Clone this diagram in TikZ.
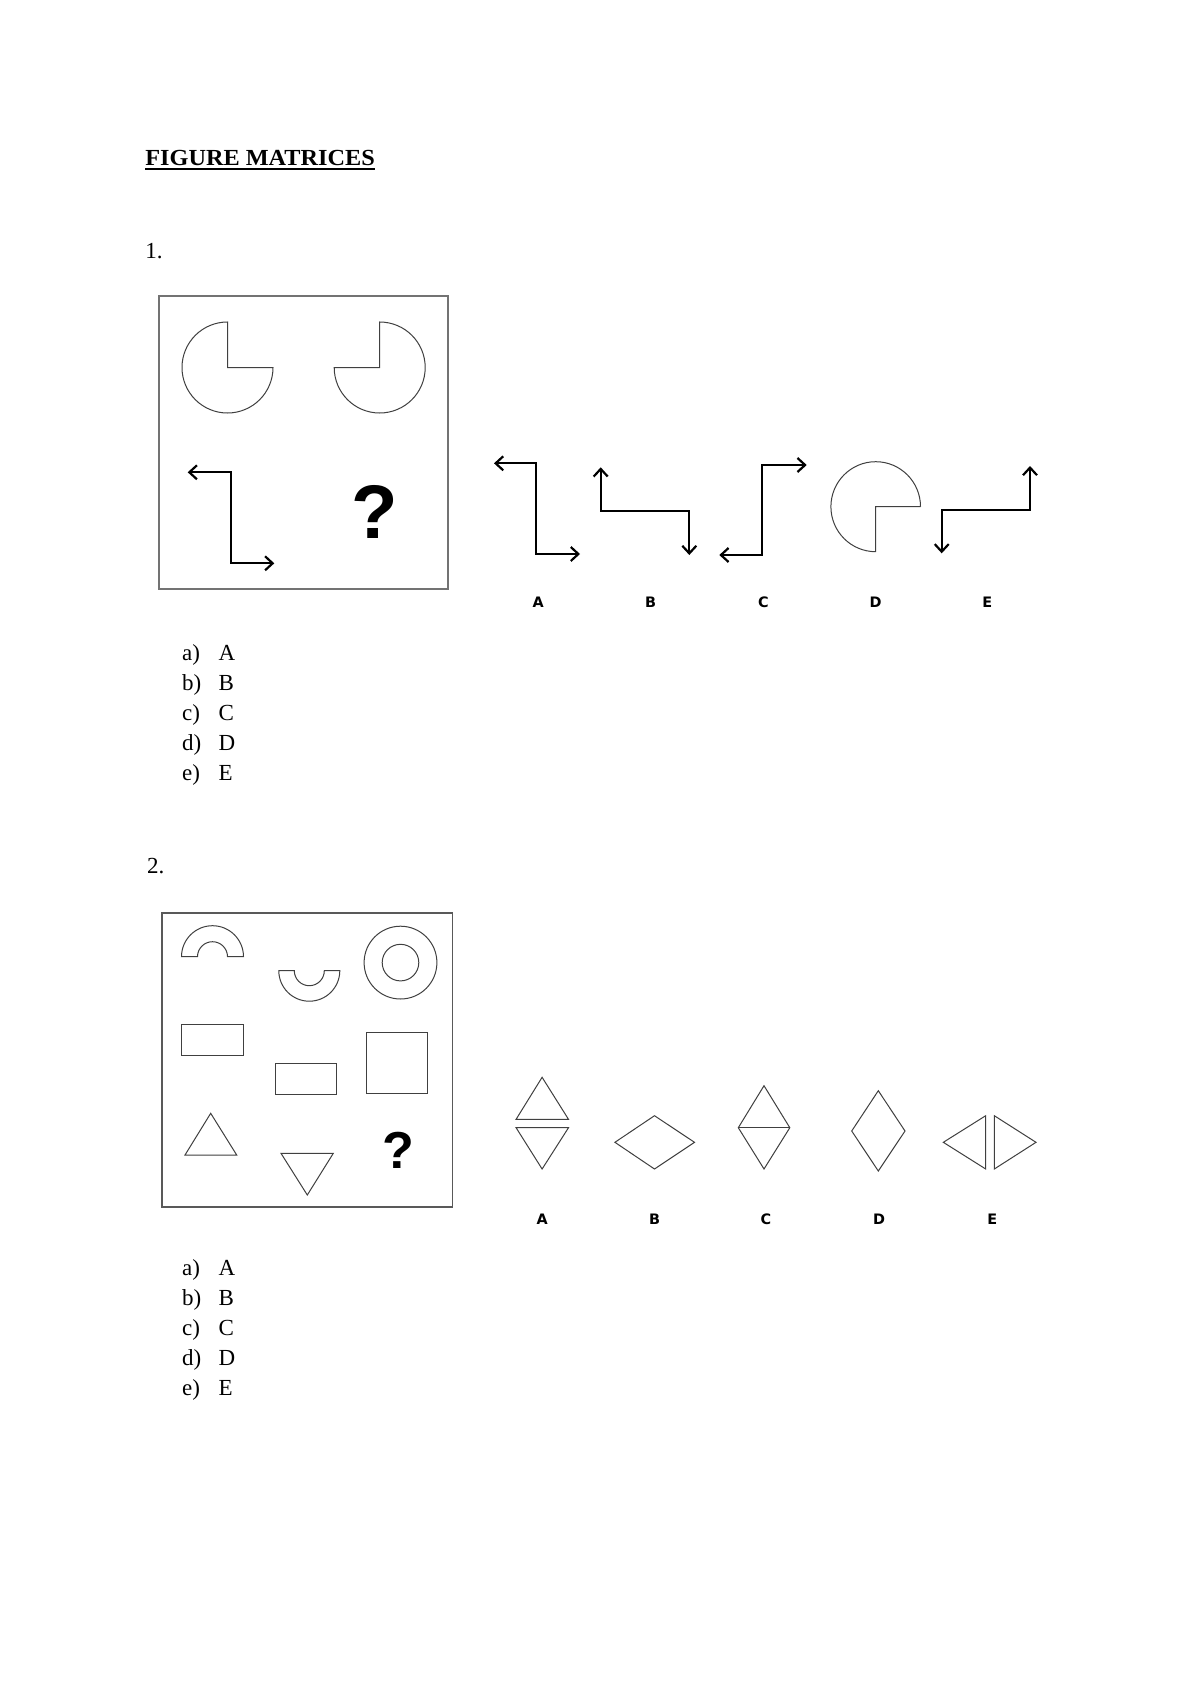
\documentclass[tikz,border=0pt]{standalone}
\usepackage{fontspec}
\setmainfont{Liberation Serif}
\newfontfamily\labfont{Liberation Sans}
\newfontfamily\optfont{DejaVu Sans}
\usetikzlibrary{arrows.meta}
\begin{document}
\begin{tikzpicture}[x=0.5pt,y=-0.5pt,
  txt/.style={anchor=base west,inner sep=0,font=\fontsize{11.5}{13}\selectfont},
  lab/.style={inner sep=0,font=\optfont\bfseries\fontsize{7.2}{8}\selectfont},
  frame/.style={draw=black!55,line width=0.8pt},
  thinline/.style={draw=black!75,line width=0.5pt,line join=miter},
  zig/.style={draw=black,line width=1.1pt,line join=miter,
    {Straight Barb[length=3.8pt,width=7pt,line width=1.1pt]}-{Straight Barb[length=3.8pt,width=7pt,line width=1.1pt]}},
  qmark/.style={inner sep=0,font=\labfont\bfseries\fontsize{38}{40}\selectfont},
  qmarksmall/.style={inner sep=0,font=\labfont\bfseries\fontsize{26}{28}\selectfont}]
\useasboundingbox[fill=white] (0,0) rectangle (1200,1696);

% title
\node[txt,font=\bfseries\fontsize{11.5}{13}\selectfont] (title) at (145,166) {\scalebox{1.055}[1]{FIGURE MATRICES}};
\draw[line width=0.9pt] ([yshift=-1.6pt]title.base west) -- ([yshift=-1.6pt]title.base east);

% ---------------- question 1 ----------------
\node[txt] (q1) at (145,258) {1.};
\draw[frame] (159,296) rectangle (448,589);

% pies
\draw[thinline] (227.5,322) -- (227.5,367.5) -- (273,367.5)
  arc[start angle=0,end angle=270,radius=45.5] -- cycle;
\draw[thinline] (379.7,322) -- (379.7,367.5) -- (334.2,367.5)
  arc[start angle=180,end angle=-90,radius=45.5] -- cycle;

% zigzag in the matrix
\coordinate (m1) at (187.7,472.3); \coordinate (m2) at (231,472.3);
\coordinate (m3) at (231,563.3);   \coordinate (m4) at (274.3,563.3);
\draw[zig] (m1) -- (m2) -- (m3) -- (m4);
\node[qmark] (qm1) at (375,511.7) {?};

% options
\coordinate (a1) at (494,463.3);   \coordinate (a2) at (536,463.3);
\coordinate (a3) at (536,554);     \coordinate (a4) at (580,554);
\draw[zig] (a1) -- (a2) -- (a3) -- (a4);
\coordinate (b1) at (600.7,467.3); \coordinate (b2) at (600.7,511);
\coordinate (b3) at (689.3,511);   \coordinate (b4) at (689.3,555);
\draw[zig] (b1) -- (b2) -- (b3) -- (b4);
\coordinate (c1) at (719.3,555);   \coordinate (c2) at (762.3,555);
\coordinate (c3) at (762.3,465);   \coordinate (c4) at (806.7,465);
\draw[zig] (c1) -- (c2) -- (c3) -- (c4);
\draw[thinline] (920.5,506.7) -- (875.7,506.7) -- (875.7,551.7)
  arc[start angle=90,end angle=360,x radius=44.8,y radius=45] -- cycle;
\coordinate (e1) at (941.7,553.3); \coordinate (e2) at (941.7,510);
\coordinate (e3) at (1030,510);    \coordinate (e4) at (1030,466);
\draw[zig] (e1) -- (e2) -- (e3) -- (e4);

\node[lab] (l1a) at (538.3,602) {A};
\node[lab] (l1b) at (650.7,602) {B};
\node[lab] (l1c) at (763.3,602) {C};
\node[lab] (l1d) at (875.7,602) {D};
\node[lab] (l1e) at (987.3,602) {E};

\foreach \y/\p/\c in {660/a/A,690/b/B,720/c/C,750/d/D,780/e/E}{
  \node[txt] (o1\p) at (181.7,\y) {\p)};
  \node[txt] (o1\c) at (218.3,\y) {\c};
}

% ---------------- question 2 ----------------
\node[txt] (q2) at (146.7,873.3) {2.};
\draw[frame,draw=black!65] (161.7,912.7) rectangle (452.3,1206.7);

% arches
\draw[thinline] (181.5,956.7) arc[start angle=180,end angle=360,radius=31]
  -- (227.5,956.7) arc[start angle=0,end angle=-180,radius=15] -- cycle;
\draw[thinline] (278.8,970.7) arc[start angle=180,end angle=0,radius=30.5]
  -- (324.3,970.7) arc[start angle=0,end angle=180,radius=15] -- cycle;
\draw[thinline] (400.5,962.6) circle[radius=36.4];
\draw[thinline] (400.5,962.6) circle[radius=18.3];

% rectangles
\draw[thinline] (181.7,1024.3) rectangle (243.3,1055);
\draw[thinline] (275,1063.7) rectangle (336,1094.3);
\draw[thinline] (366,1032) rectangle (427.3,1093.3);

% triangles
\draw[thinline] (210.7,1113.3) -- (236.7,1155) -- (185,1155) -- cycle;
\draw[thinline] (281,1153.3) -- (333.3,1153.3) -- (307.3,1195) -- cycle;
\node[qmarksmall] (qm2) at (398.3,1150.8) {?};

% options
\draw[thinline] (542.1,1077.3) -- (568.5,1119.3) -- (516.1,1119.3) -- cycle;
\draw[thinline] (516.1,1127.7) -- (568.5,1127.7) -- (542.1,1169) -- cycle;
\draw[thinline] (614.9,1142.3) -- (654.5,1115.7) -- (694.5,1142.3) -- (654.5,1169) -- cycle;
\draw[thinline] (764,1085.7) -- (789.8,1127.7) -- (764,1169) -- (738.3,1127.7) -- cycle;
\draw[thinline] (738.3,1127.7) -- (789.8,1127.7);
\draw[thinline] (878.3,1090.7) -- (905,1131) -- (878.3,1171) -- (851.7,1131) -- cycle;
\draw[thinline] (943.3,1142.3) -- (985.7,1115.7) -- (985.7,1169) -- cycle;
\draw[thinline] (1036,1142.3) -- (994.3,1115.7) -- (994.3,1169) -- cycle;

\node[lab] (l2a) at (542.1,1219) {A};
\node[lab] (l2b) at (654.5,1219) {B};
\node[lab] (l2c) at (765.8,1219) {C};
\node[lab] (l2d) at (879,1219) {D};
\node[lab] (l2e) at (992.3,1219) {E};

\foreach \y/\p/\c in {1275/a/A,1305/b/B,1335/c/C,1365/d/D,1395/e/E}{
  \node[txt] (o2\p) at (181.7,\y) {\p)};
  \node[txt] (o2\c) at (218.3,\y) {\c};
}
\end{tikzpicture}
\end{document}
